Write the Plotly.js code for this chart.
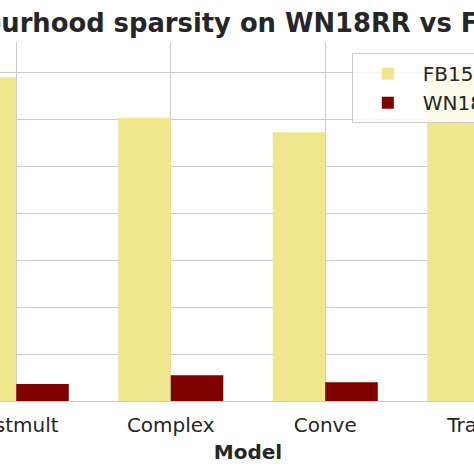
<!DOCTYPE html>
<html>
<head>
<meta charset="utf-8">
<script src="https://cdn.plot.ly/plotly-3.0.1.min.js"></script>
<style>
  html, body { margin: 0; padding: 0; width: 474px; height: 474px; overflow: hidden; background: #fff; }
  #chart { position: absolute; left: -161px; top: 0; width: 780px; height: 474px; }
</style>
</head>
<body>
<div id="chart"></div>
<script>
// Data (y-axis tick labels are cropped out of the reference; values on a 10-unit gridline scale)
const models = ["Distmult", "Complex", "Conve", "Transe"];
const fb15kValues = [68.9, 60.3, 57.2, 70.6];
const wn18rrValues = [3.6, 5.5, 4.0, 4.0];
const seriesNames = ["FB15k-237", "WN18RR"];
const titleText = "Neighbourhood sparsity on WN18RR vs FB15k-237";
const xTitle = "Model";

const textColor = "#262626";
const font = { family: "DejaVu Sans", color: textColor };

const traces = [
  { type: "bar", name: seriesNames[0], x: models, y: fb15kValues,
    marker: { color: "#F0E68C" } },
  { type: "bar", name: seriesNames[1], x: models, y: wn18rrValues,
    marker: { color: "#800000" } }
];

const layout = {
  width: 780, height: 474,
  margin: { l: 100, r: 62, t: 42, b: 73 },
  paper_bgcolor: "#fff", plot_bgcolor: "#fff",
  barmode: "group", bargap: 0.32, bargroupgap: 0,
  font: Object.assign({ size: 20 }, font),
  title: {
    text: titleText,
    font: Object.assign({ size: 25.8, weight: "bold" }, font),
    xref: "paper", x: 0.5, xanchor: "center",
    yref: "container", y: 1 - 23 / 474, yanchor: "middle"
  },
  xaxis: {
    type: "category",
    showgrid: true, gridcolor: "#cccccc", gridwidth: 1,
    showline: true, linecolor: "#cccccc", linewidth: 1,
    ticks: "outside", ticklen: 6, tickcolor: "rgba(0,0,0,0)",
    tickfont: Object.assign({ size: 20 }, font),
    title: { text: xTitle, font: Object.assign({ size: 20, weight: "bold" }, font), standoff: 8 }
  },
  yaxis: {
    range: [0, 76.4],
    dtick: 10,
    showgrid: true, gridcolor: "#cccccc", gridwidth: 1,
    zeroline: false, showline: false,
    tickfont: Object.assign({ size: 20 }, font)
  },
  legend: {
    x: 0.668, xanchor: "left", y: 0.969, yanchor: "top",
    bgcolor: "rgba(255,255,255,0.8)", bordercolor: "#cccccc", borderwidth: 1,
    font: Object.assign({ size: 20 }, font),
    itemwidth: 60
  },
  showlegend: true
};

Plotly.newPlot("chart", traces, layout, { staticPlot: true, displayModeBar: false });
</script>
</body>
</html>
